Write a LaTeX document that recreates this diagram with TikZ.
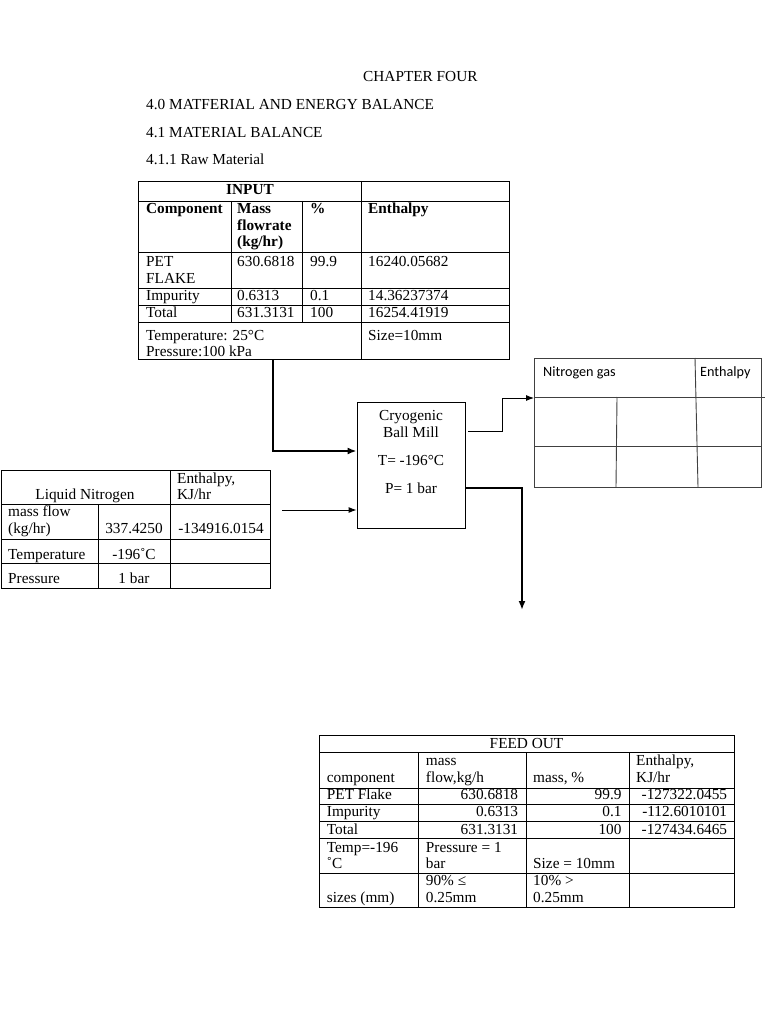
\documentclass[tikz,border=0pt]{standalone}
\usepackage{fontspec}
\setmainfont{Liberation Serif}
\newfontfamily\calib{Carlito}
\usetikzlibrary{arrows.meta}
\newcommand\fsz{\fontsize{15.3pt}{17.5pt}\selectfont}
\newcommand\csz{\calib\fontsize{14.2pt}{17pt}\selectfont}
\begin{document}
\begin{tikzpicture}[x=1pt,y=-1pt,
 tl/.style={anchor=base west,inner sep=0pt,font=\fsz},
 tc/.style={anchor=base,inner sep=0pt,font=\fsz},
 tr/.style={anchor=base east,inner sep=0pt,font=\fsz},
 bl/.style={tl,font=\fsz\bfseries},
 cl/.style={anchor=base west,inner sep=0pt,font=\csz},
 grid/.style={line width=0.9pt,black},
 sketch/.style={line width=0.9pt,black!75},
 thinflow/.style={line width=0.9pt,-{Latex[length=8pt,width=6pt]}},
 thickflow/.style={line width=2pt,-{Latex[length=9pt,width=7pt]}},
 millbox/.style={draw,line width=0.9pt,minimum width=108pt,minimum height=126pt,inner sep=0pt}
]
\useasboundingbox[fill=white] (0,0) rectangle (768,1024);

% headings
\node[tl] (h0) at (363,82) {CHAPTER FOUR};
\node[tl] (h1) at (146,110) {4.0 MATFERIAL AND ENERGY BALANCE};
\node[tl] (h2) at (146,137.5) {4.1 MATERIAL BALANCE};
\node[tl] (h3) at (146,165) {4.1.1 Raw Material};

% input table
\draw[grid] (138,181) rectangle (509,359);
\foreach \yy in {201,252,288,305,322} \draw[grid] (138,\yy) -- (509,\yy);
\draw[grid] (361,181) -- (361,359);
\draw[grid] (231,201) -- (231,322);
\draw[grid] (302,201) -- (302,322);
\node[tc,font=\fsz\bfseries] (inp) at (250,195) {INPUT};
\node[bl] (ic1) at (146,214) {Component};
\node[bl] (ic2a) at (237,214) {Mass};
\node[bl] (ic2b) at (237,231) {flowrate};
\node[bl] (ic2c) at (237,247) {(kg/hr)};
\node[bl] (ic3) at (310,214) {\%};
\node[bl] (ic4) at (368,214) {Enthalpy};
\node[tl] (ir1a) at (146,266) {PET};
\node[tl] (ir1b) at (146,283) {FLAKE};
\node[tl] (ir1c) at (237,266) {630.6818};
\node[tl] (ir1d) at (310,266) {99.9};
\node[tl] (ir1e) at (368,266) {16240.05682};
\node[tl] (ir2a) at (146,300.5) {Impurity};
\node[tl] (ir2c) at (237,300.5) {0.6313};
\node[tl] (ir2d) at (310,300.5) {0.1};
\node[tl] (ir2e) at (368,300.5) {14.36237374};
\node[tl] (ir3a) at (146,317.5) {Total};
\node[tl] (ir3c) at (237,317.5) {631.3131};
\node[tl] (ir3d) at (310,317.5) {100};
\node[tl] (ir3e) at (368,317.5) {16254.41919};
\node[tl] (ir4a) at (146,340) {Temperature: 25°C};
\node[tl] (ir4b) at (146,356) {Pressure:100 kPa};
\node[tl] (ir4c) at (368,340) {Size=10mm};

% mill
\node[millbox] (mill) at (411,465) {};
\node[tc] (m1) at (411,420) {Cryogenic};
\node[tc] (m2) at (411,437.5) {Ball Mill};
\node[tc] (m3) at (411,465) {T= -196°C};
\node[tc] (m4) at (411,493) {P= 1 bar};

% nitrogen gas table
\draw[sketch] (534,358) rectangle (761,487);
\draw[sketch] (534,397) -- (765,397);
\draw[sketch] (534,446) -- (761,446);
\draw[sketch] (695,358) -- (698,487);
\draw[sketch] (617,397) -- (616,487);
\node[cl] (ng1) at (543,376) {Nitrogen gas};
\node[cl] (ng2) at (700,376) {Enthalpy};
\coordinate (ngin) at (534,398);

% liquid nitrogen table
\draw[grid] (1,470) rectangle (270,588);
\foreach \yy in {504,539,563} \draw[grid] (1,\yy) -- (270,\yy);
\draw[grid] (170,470) -- (170,588);
\draw[grid] (98,504) -- (98,588);
\node[tc] (ln1) at (85,499) {Liquid Nitrogen};
\node[tl] (ln2a) at (177,483) {Enthalpy,};
\node[tl] (ln2b) at (177,499.5) {KJ/hr};
\node[tl] (ln3a) at (8,516) {mass flow};
\node[tl] (ln3b) at (8,533) {(kg/hr)};
\node[tc] (ln3c) at (134,533) {337.4250};
\node[tc] (ln3d) at (221,533) {-134916.0154};
\node[tl] (ln4a) at (8,559) {Temperature};
\node[tc] (ln4b) at (134,559) {-196˚C};
\node[tl] (ln5a) at (8,583) {Pressure};
\node[tc] (ln5b) at (134,583) {1 bar};

% feed out table
\draw[grid] (319,735) rectangle (734,907.5);
\foreach \yy in {752,788,804.5,821.5,838.5,873.5} \draw[grid] (319,\yy) -- (734,\yy);
\foreach \xx in {418,526,629} \draw[grid] (\xx,752) -- (\xx,907.5);
\node[tc] (fo0) at (526.5,748) {FEED OUT};
\node[tl] (fo1) at (326.7,782) {component};
\node[tl] (fo2a) at (425.7,765) {mass};
\node[tl] (fo2b) at (425.7,782) {flow,kg/h};
\node[tl] (fo3) at (533,782) {mass, \%};
\node[tl] (fo4a) at (636,765) {Enthalpy,};
\node[tl] (fo4b) at (636,782) {KJ/hr};
\node[tl] (fr1a) at (326.7,799) {PET Flake};
\node[tr] (fr1b) at (518.3,799) {630.6818};
\node[tr] (fr1c) at (621.7,799) {99.9};
\node[tr] (fr1d) at (727.3,799) {-127322.0455};
\node[tl] (fr2a) at (326.7,816.5) {Impurity};
\node[tr] (fr2b) at (518.3,816.5) {0.6313};
\node[tr] (fr2c) at (621.7,816.5) {0.1};
\node[tr] (fr2d) at (727.3,816.5) {-112.6010101};
\node[tl] (fr3a) at (326.7,834) {Total};
\node[tr] (fr3b) at (518.3,834) {631.3131};
\node[tr] (fr3c) at (621.7,834) {100};
\node[tr] (fr3d) at (727.3,834) {-127434.6465};
\node[tl] (fr4a) at (326.7,852) {Temp=-196};
\node[tl] (fr4b) at (326.7,868) {˚C};
\node[tl] (fr4c) at (425.7,852) {Pressure = 1};
\node[tl] (fr4d) at (425.7,868) {bar};
\node[tl] (fr4e) at (533,868) {Size = 10mm};
\node[tl] (fr5a) at (326.7,902) {sizes (mm)};
\node[tl] (fr5b) at (425.7,885) {90\% ≤};
\node[tl] (fr5c) at (425.7,902) {0.25mm};
\node[tl] (fr5d) at (533,885) {10\% >};
\node[tl] (fr5e) at (533,902) {0.25mm};

% connectors
\coordinate (feedin) at (272.5,360);
\coordinate (feedrow) at (0,451);
\draw[thickflow] (feedin) |- (feedrow -| mill.west);
\coordinate (lnin) at (282,510);
\draw[thinflow] (lnin) -- (lnin -| mill.west);
\coordinate (gasout) at (468,431);
\coordinate (gasturn) at (502,431);
\draw[thinflow] (gasout) -- (gasturn) |- (ngin);
\coordinate (prodrow) at (0,488);
\coordinate (prodend) at (522,610);
\draw[thickflow] (prodrow -| mill.east) -| (prodend);
\end{tikzpicture}
\end{document}
